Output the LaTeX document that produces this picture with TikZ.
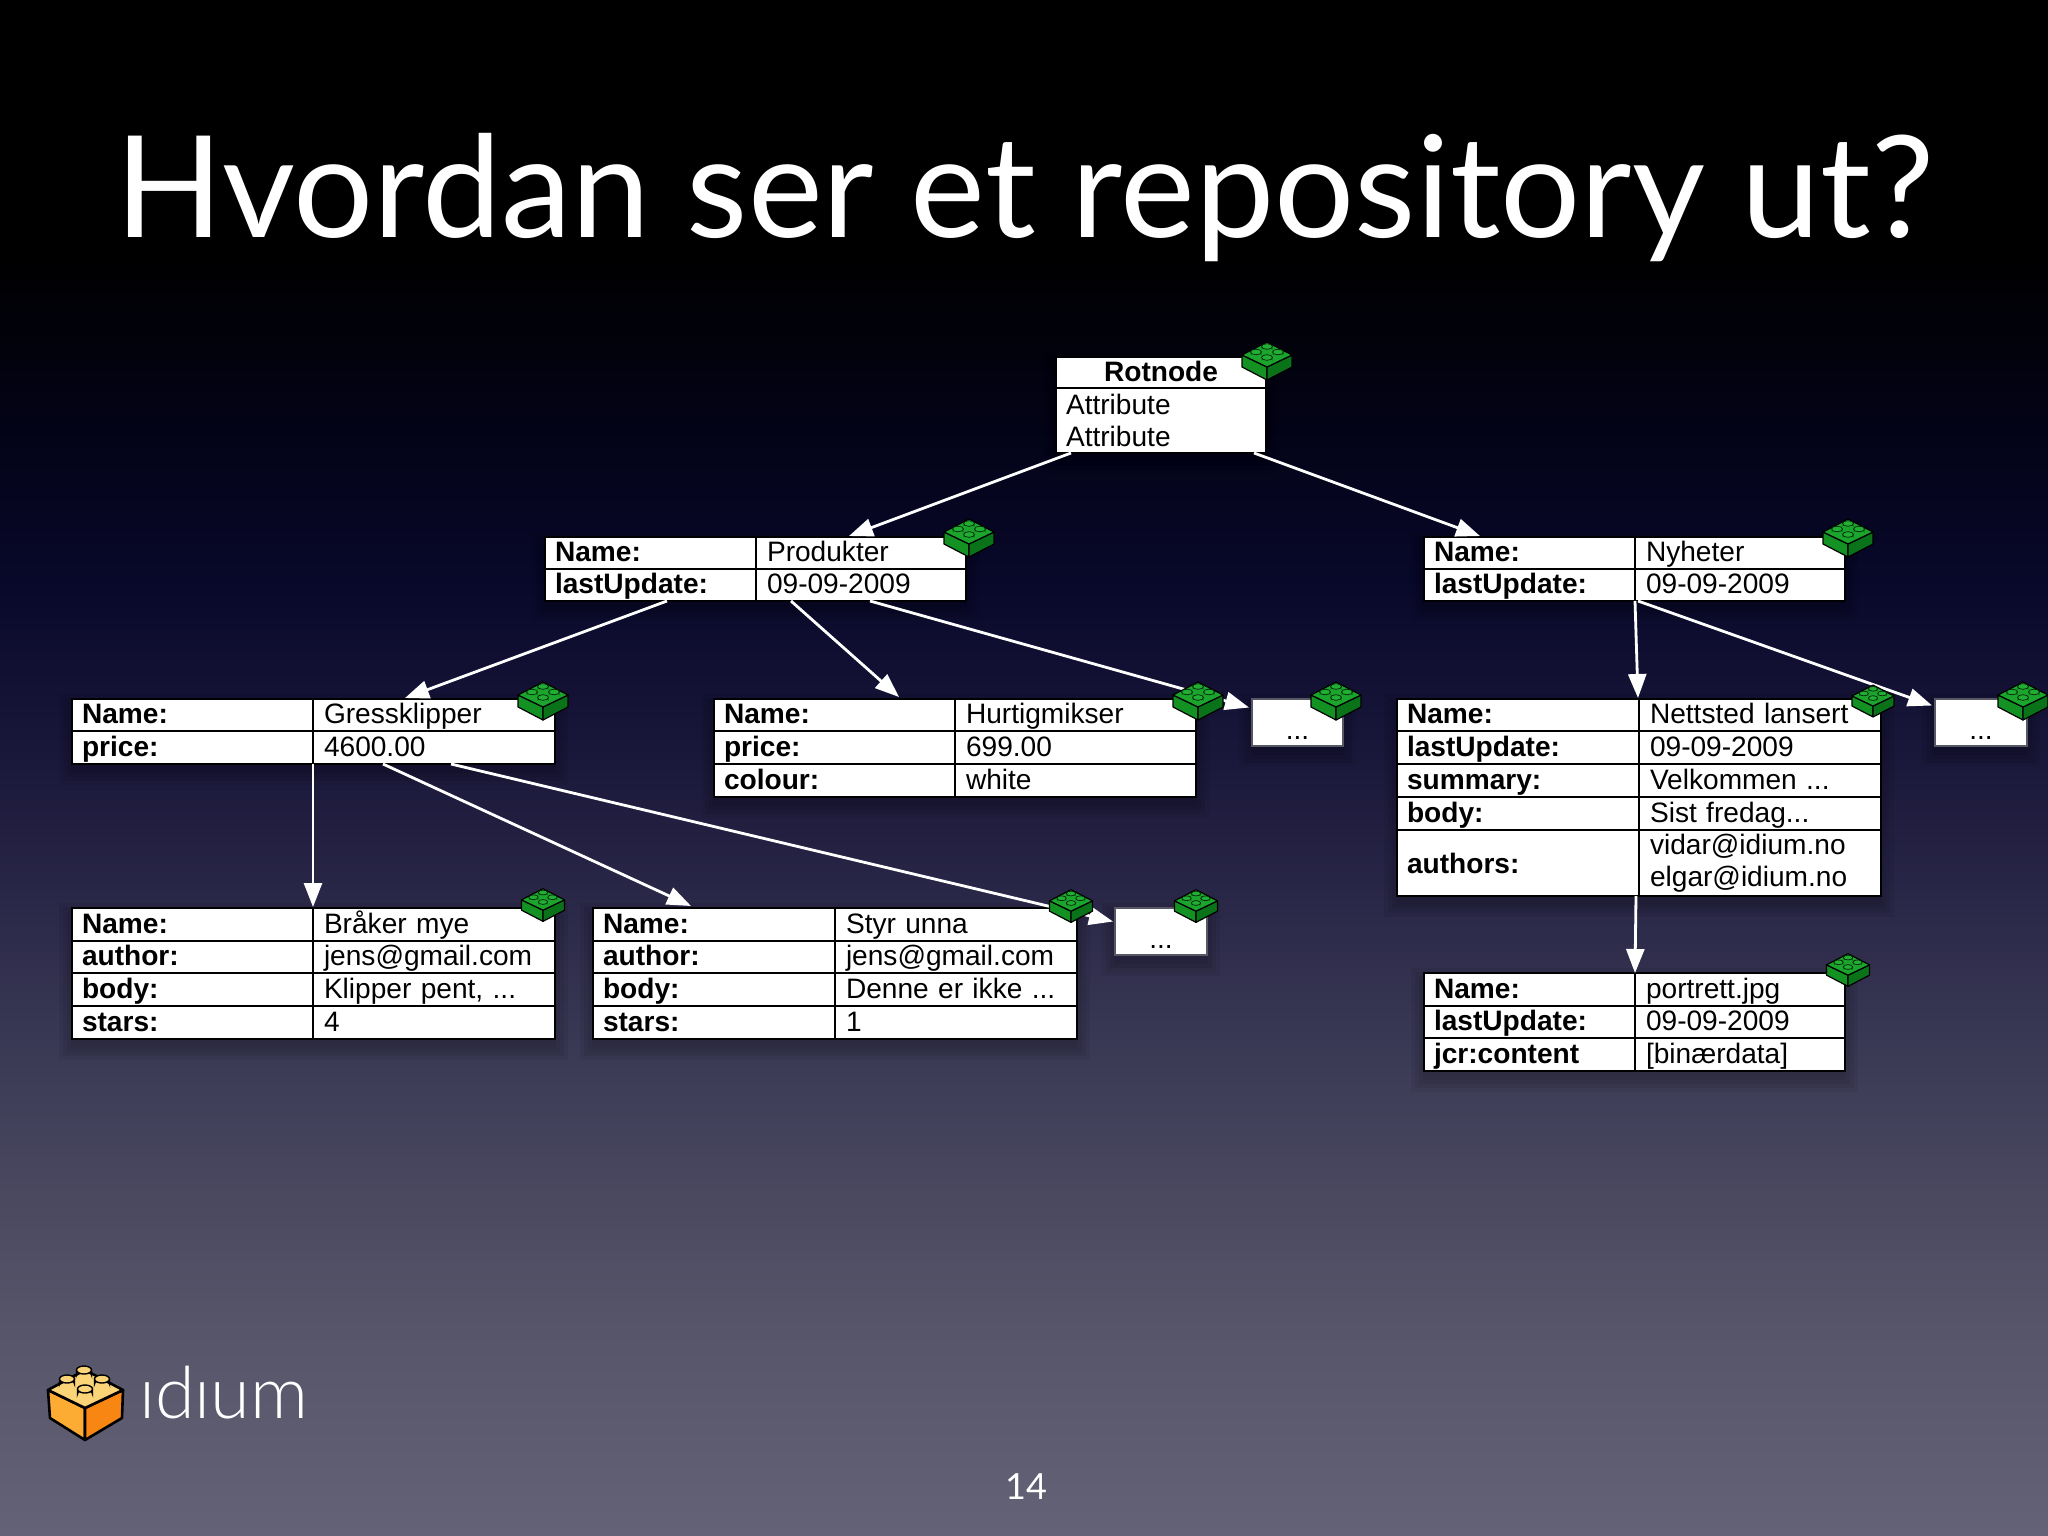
\documentclass[tikz,border=0pt]{standalone}
\usepackage{fontspec}
\usetikzlibrary{arrows.meta,calc}
\setmainfont{Liberation Sans}
\newfontfamily\gillish{Lato}
\newfontfamily\gillthin{Lato Light}
\definecolor{bgA}{RGB}{100,98,118}
\definecolor{bgAA}{RGB}{86,84,104}
\definecolor{bgB}{RGB}{61,60,87}
\definecolor{bgC}{RGB}{33,30,64}
\definecolor{bgD}{RGB}{8,8,42}
\definecolor{bgDD}{RGB}{3,3,22}
\definecolor{bgE}{RGB}{0,0,0}
\definecolor{legoTop}{RGB}{28,165,45}
\definecolor{legoStud}{RGB}{32,175,50}
\definecolor{legoLeft}{RGB}{20,145,35}
\definecolor{legoRight}{RGB}{10,115,26}
\definecolor{orgTop}{RGB}{252,212,120}
\definecolor{orgLeft}{RGB}{252,172,50}
\definecolor{orgRight}{RGB}{247,135,18}
\definecolor{boxedge}{RGB}{88,88,100}
\pgfdeclareverticalshading{slidebg}{100bp}{color(0bp)=(bgA);color(25bp)=(bgA);color(32.16bp)=(bgAA);color(40.17bp)=(bgB);color(48.18bp)=(bgC);color(56.18bp)=(bgD);color(61.33bp)=(bgDD);color(66.86bp)=(bgE);color(75bp)=(bgE);color(100bp)=(bgE)}
\tikzset{
  cellbase/.style={draw=black,fill=white,line width=2.8pt,inner xsep=10pt,inner ysep=0pt,outer sep=0pt,
    font=\fontsize{28.1}{32}\selectfont,align=left},
  keycell/.style={cellbase,font=\fontsize{28.1}{32}\selectfont\bfseries},
  valcell/.style={cellbase},
  onerow/.style={text height=22pt,text depth=5pt},
  morebox/.style={draw=boxedge,fill=white,line width=2.6pt,outer sep=0pt,inner sep=0pt,font=\fontsize{28}{32}\selectfont,text height=34pt,text depth=0pt},
  conn/.style={draw=white,line width=2.8pt,-{Triangle[length=24pt,width=18pt,fill=white]}},
  pics/lego/.style={code={
    \draw[black,line width=1.2pt,line join=round,fill=legoLeft] (-25,-6)--(0,6)--(0,19)--(-25,6)--cycle;
    \draw[black,line width=1.2pt,line join=round,fill=legoRight] (25,-6)--(0,6)--(0,19)--(25,6)--cycle;
    \draw[black,line width=1.2pt,line join=round,fill=legoTop] (0,-19)--(25,-6)--(0,6)--(-25,-6)--cycle;
    \foreach \sx/\sy in {0/-13,-11/-7.5,11/-7.5,0/-2}{
      \fill[legoRight] (\sx-5.5,\sy-1.5)--(\sx-5.5,\sy+2) arc[start angle=180,end angle=360,x radius=5.5,y radius=2.5]--(\sx+5.5,\sy-1.5)--cycle;
      \draw[black!70!legoRight,line width=.7pt,fill=legoStud] (\sx,\sy-1.5) ellipse[x radius=5.5,y radius=2.8];
    }
  }},
  pics/orangelego/.style={code={
    \draw[black,line width=2.6pt,line join=round,fill=orgLeft] (-37,0)--(0,18)--(0,50)--(-35,28)--cycle;
    \draw[black,line width=2.6pt,line join=round,fill=orgRight] (38,0)--(0,18)--(0,50)--(37,28)--cycle;
    \draw[black,line width=2.6pt,line join=round,fill=orgTop] (0,-20)--(38,0)--(0,18)--(-37,0)--cycle;
    \foreach \sx/\sy in {-1/-17,-18/-8,17/-8,0/2}{
      \draw[black,line width=1.4pt,fill=orgLeft] (\sx-7.5,\sy-3)--(\sx-7.5,\sy+2) arc[start angle=180,end angle=360,x radius=7.5,y radius=4]--(\sx+7.5,\sy-3)--cycle;
      \draw[black,line width=1.4pt,fill=orgTop] (\sx,\sy-3) ellipse[x radius=7.5,y radius=4];
    }
  }},
}
% one cell: name, x1, y1, x2, y2, style, text
\newcommand\cellat[7]{\node[#6,minimum width={(#4-#2)*1pt},minimum height={(#5-#3)*1pt},text width={(#4-#2-20)*1pt}] (#1) at ({(#2+#4)/2},{(#3+#5)/2}) {#7};}
% key/value row: name, x1, xsplit, x2, y1, y2, key, value
\newcommand\kvrow[8]{\cellat{#1k}{#2}{#5}{#3}{#6}{keycell,onerow}{#7}\cellat{#1v}{#3}{#5}{#4}{#6}{valcell,onerow}{\hspace*{1pt}#8}}
\newcommand\softshadow[4]{\foreach \g in {13,9,5,1}{\fill[black,opacity=.06] ({#1-\g},{#2+8-\g}) rectangle ({#3+\g},{#4+8+\g});}}
\begin{document}
\begin{tikzpicture}[x=1pt,y=-1pt]
\useasboundingbox (0,0) rectangle (2048,1536);
\shade[shading=slidebg] (0,0) rectangle (2048,1536);
\node[text=white,font=\fontsize{141.5}{150}\gillish,anchor=base] (title) at (1025,237) {Hvordan ser et repository ut?};

% shadows
\softshadow{1056}{357}{1266}{453}
\softshadow{545}{537}{966}{601}
\softshadow{1424}{537}{1845}{601}
\softshadow{72}{699}{555}{764}
\softshadow{714}{699}{1196}{797}
\softshadow{1252}{699}{1343}{746}
\softshadow{1935}{699}{2027}{746}
\softshadow{1397}{699}{1881}{896}
\softshadow{72}{908}{555}{1039}
\softshadow{593}{908}{1077}{1039}
\softshadow{1115}{908}{1207}{955}
\softshadow{1424}{973}{1845}{1071}

% root
\cellat{rootA}{1056}{357}{1266}{388}{keycell,onerow,align=center}{Rotnode}
\cellat{rootB}{1056}{388}{1266}{453}{valcell}{Attribute\\Attribute}

% second level
\kvrow{prodA}{545}{756}{966}{537}{569}{Name:}{Produkter}
\kvrow{prodB}{545}{756}{966}{569}{601}{lastUpdate:}{09-09-2009}
\kvrow{nyhA}{1424}{1635}{1845}{537}{569}{Name:}{Nyheter}
\kvrow{nyhB}{1424}{1635}{1845}{569}{601}{lastUpdate:}{09-09-2009}

% third level
\kvrow{greA}{72}{313}{555}{699}{731}{Name:}{Gressklipper}
\kvrow{greB}{72}{313}{555}{731}{764}{price:}{4600.00}
\kvrow{hurA}{714}{955}{1196}{699}{731}{Name:}{Hurtigmikser}
\kvrow{hurB}{714}{955}{1196}{731}{764}{price:}{699.00}
\kvrow{hurC}{714}{955}{1196}{764}{797}{colour:}{white}
\node[morebox,minimum width=91pt,minimum height=47pt] (moreA) at (1297.5,722.5) {...};
\kvrow{netA}{1397}{1639}{1881}{699}{731}{Name:}{Nettsted lansert}
\kvrow{netB}{1397}{1639}{1881}{731}{764}{lastUpdate:}{09-09-2009}
\kvrow{netC}{1397}{1639}{1881}{764}{797}{summary:}{Velkommen ...}
\kvrow{netD}{1397}{1639}{1881}{797}{830}{body:}{Sist fredag...}
\cellat{netEk}{1397}{830}{1639}{896}{keycell}{authors:}
\cellat{netEv}{1639}{830}{1881}{896}{valcell}{\hspace*{1pt}vidar@idium.no\\\hspace*{1pt}elgar@idium.no}
\node[morebox,minimum width=92pt,minimum height=47pt] (moreB) at (1981,722.5) {...};

% fourth level
\kvrow{braA}{72}{313}{555}{908}{941}{Name:}{Bråker mye}
\kvrow{braB}{72}{313}{555}{941}{973}{author:}{jens@gmail.com}
\kvrow{braC}{72}{313}{555}{973}{1006}{body:}{Klipper pent, ...}
\kvrow{braD}{72}{313}{555}{1006}{1039}{stars:}{4}
\kvrow{styA}{593}{835}{1077}{908}{941}{Name:}{Styr unna}
\kvrow{styB}{593}{835}{1077}{941}{973}{author:}{jens@gmail.com}
\kvrow{styC}{593}{835}{1077}{973}{1006}{body:}{Denne er ikke ...}
\kvrow{styD}{593}{835}{1077}{1006}{1039}{stars:}{1}
\node[morebox,minimum width=92pt,minimum height=47pt] (moreC) at (1161,931.5) {...};
\kvrow{porA}{1424}{1635}{1845}{973}{1006}{Name:}{portrett.jpg}
\kvrow{porB}{1424}{1635}{1845}{1006}{1038}{lastUpdate:}{09-09-2009}
\kvrow{porC}{1424}{1635}{1845}{1038}{1071}{jcr:content}{[binærdata]}

% connectors
\draw[conn] ([xshift=15pt]rootB.south west) -- ([xshift=304pt,yshift=1pt]prodAk.north west);
\draw[conn] ([xshift=198pt]rootB.south west) -- ([xshift=56pt,yshift=1pt]nyhAk.north west);
\draw[conn] ([xshift=122pt]prodBk.south west) -- ([xshift=333pt,yshift=1pt]greAk.north west);
\draw[conn] ([xshift=35pt]prodBv.south west) -- ([xshift=185pt,yshift=2pt]hurAk.north west);
\draw[conn] ([xshift=114pt]prodBv.south west) -- ([yshift=15pt,xshift=-3pt]moreA.west);
\draw[conn] (nyhBv.south west) -- ([xshift=-1pt,yshift=1pt]netAv.north west);
\draw[conn] ([xshift=3pt]nyhBv.south west) -- ([xshift=-3pt,yshift=17pt]moreB.west);
\draw[conn] ([xshift=-3pt]netEv.south west) -- (porAv.north west);
\draw[conn] (greBv.south west) -- ([yshift=1pt]braAv.north west);
\draw[conn] ([xshift=70pt]greBv.south west) -- ([xshift=619pt,yshift=2pt]braAk.north west);
\draw[conn] ([xshift=138pt]greBv.south west) -- ([xshift=-2pt,yshift=10pt]moreC.west);

% bricks
\pic at (1267,361) {lego};
\pic at (969,538) {lego};
\pic at (1848,538) {lego};
\pic at (543,701) {lego};
\pic at (1198,701) {lego};
\pic at (1336,701) {lego};
\pic[scale=.84] at (1873,701) {lego};
\pic at (2023,701) {lego};
\pic[scale=.86] at (543,905) {lego};
\pic[scale=.86] at (1071,906) {lego};
\pic[scale=.86] at (1196,906) {lego};
\pic[scale=.86] at (1848,970) {lego};

% logo and page number
\pic at (85,1390) {orangelego};
\node[text=white,font=\fontsize{72}{80}\gillthin,anchor=base west,inner sep=0pt] (logo) at (139,1418) {ıdıum};
\node[text=white,font=\fontsize{36}{40}\gillish,anchor=center,inner sep=0pt] (pageno) at (1026,1487) {14};
\end{tikzpicture}
\end{document}
